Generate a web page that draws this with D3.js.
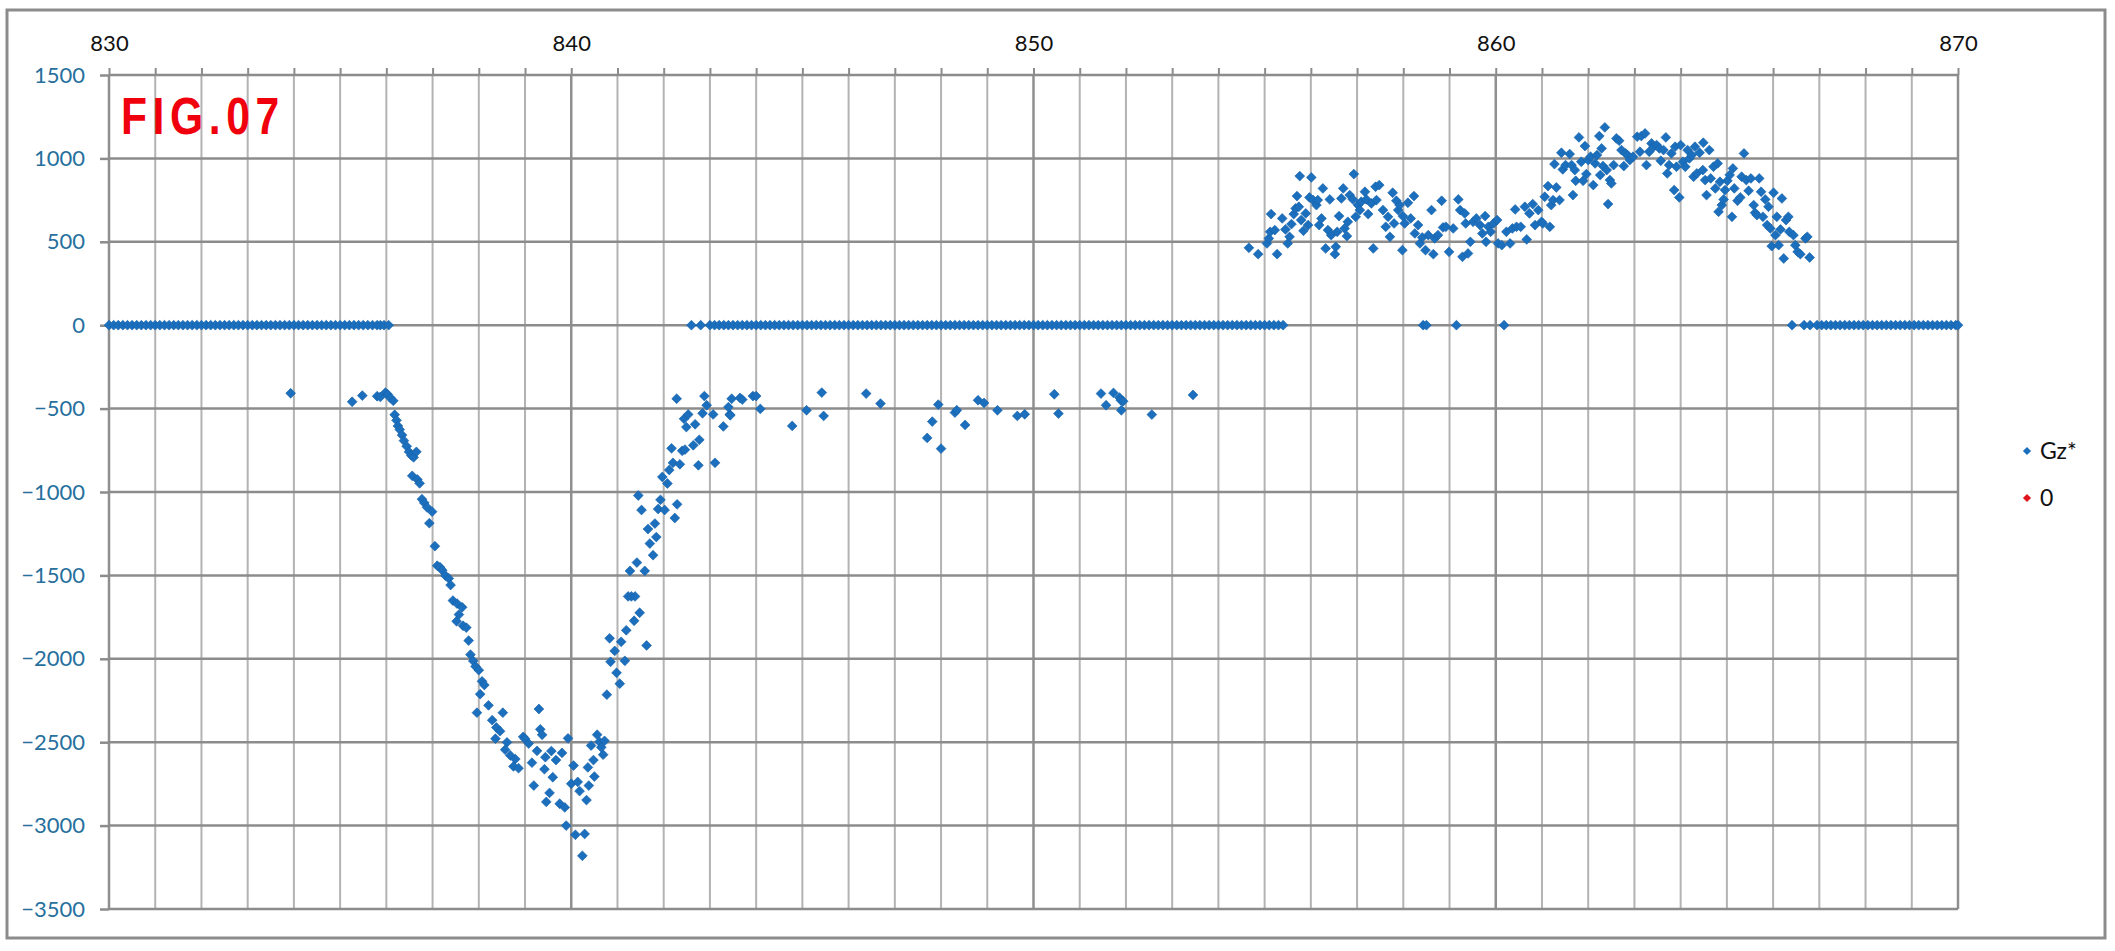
<!DOCTYPE html>
<html>
<head>
<meta charset="utf-8">
<script src="https://cdn.jsdelivr.net/npm/d3@7"></script>
<style>
  body { margin: 0; background: #fff; }
  .axis text { font-family: Lato, "Open Sans", sans-serif; font-size: 22px; }
  .axis path { display: none; }
</style>
</head>
<body>
<svg id="chart" width="2115" height="951"></svg>
<script>
//TICK LABELS
var xLabels = [830, 840, 850, 860, 870];
var yLabels = [1500, 1000, 500, 0, -500, -1000, -1500, -2000, -2500, -3000, -3500];

//LEGEND
var seriesNames = ["Gz*", "0"];
var seriesColors = ["#1b6fbd", "#e0141c"];

//Gz* READINGS THAT SIT ON ZERO (x positions)
var zeroLeft = [830,830.1,830.2,830.3,830.4,830.5,830.6,830.7,830.8,830.9,
  831,831.1,831.2,831.3,831.4,831.5,831.6,831.7,831.8,831.9,
  832,832.1,832.2,832.3,832.4,832.5,832.6,832.7,832.8,832.9,
  833,833.1,833.2,833.3,833.4,833.5,833.6,833.7,833.8,833.9,
  834,834.1,834.2,834.3,834.4,834.5,834.6,834.7,834.8,834.9,
  835,835.1,835.2,835.3,835.4,835.5,835.6,835.7,835.8,835.87,835.95,836.05];
var zeroMid = [842.6,842.8,843,843.1,843.2,843.3,843.4,843.5,843.6,843.7,843.8,843.9,
  844,844.1,844.2,844.3,844.4,844.5,844.6,844.7,844.8,844.9,
  845,845.1,845.2,845.3,845.4,845.5,845.6,845.7,845.8,845.9,
  846,846.1,846.2,846.3,846.4,846.5,846.6,846.7,846.8,846.9,
  847,847.1,847.2,847.3,847.4,847.5,847.6,847.7,847.8,847.9,
  848,848.1,848.2,848.3,848.4,848.5,848.6,848.7,848.8,848.9,
  849,849.1,849.2,849.3,849.4,849.5,849.6,849.7,849.8,849.9,
  850,850.1,850.2,850.3,850.4,850.5,850.6,850.7,850.8,850.9,
  851,851.1,851.2,851.3,851.4,851.5,851.6,851.7,851.8,851.9,
  852,852.1,852.2,852.3,852.4,852.5,852.6,852.7,852.8,852.9,
  853,853.1,853.2,853.3,853.4,853.5,853.6,853.7,853.8,853.9,
  854,854.1,854.2,854.3,854.4,854.5,854.6,854.7,854.8,854.9,
  855,855.1,855.2,855.3,855.4];
var zeroLone = [858.43, 858.5, 859.15, 860.18];
var zeroRight = [866.41,866.67,866.8,866.95,
  867.05,867.15,867.25,867.35,867.45,867.55,867.65,867.75,867.85,867.95,
  868.05,868.15,868.25,868.35,868.45,868.55,868.65,868.75,868.85,868.95,
  869.05,869.15,869.25,869.35,869.45,869.55,869.65,869.75,869.85,869.95,870];

//Gz* READINGS, DIP (x, value)
var dipPoints = [[833.93,-408],[835.26,-459],[835.48,-422],[835.8,-426],[835.87,-430],[835.98,-404],[836.03,-415],
  [836.09,-437],[836.15,-453],[836.18,-537],[836.22,-570],[836.25,-604],[836.29,-626],[836.34,-659],[836.38,-692],
  [836.44,-726],[836.49,-759],[836.54,-781],[836.59,-792],[836.65,-759],[836.56,-903],[836.67,-925],[836.72,-948],
  [836.77,-1043],[836.82,-1065],[836.88,-1092],[836.99,-1118],[836.93,-1187],[837.05,-1325],[837.1,-1442],
  [837.16,-1451],[837.21,-1469],[837.28,-1502],[837.35,-1518],[837.39,-1558],[837.44,-1651],[837.53,-1669],
  [837.64,-1691],[837.57,-1735],[837.52,-1775],[837.66,-1802],[837.73,-1813],[837.78,-1891],[837.82,-1975],
  [837.88,-2013],[837.93,-2046],[838.0,-2068],[838.07,-2135],[838.12,-2157],[838.03,-2212],[837.96,-2323],
  [838.21,-2279],[838.29,-2368],[838.38,-2412],[838.46,-2434],[838.36,-2479],[838.52,-2323],[838.61,-2501],
  [838.57,-2545],[838.68,-2579],[838.79,-2601],[838.75,-2645],[838.86,-2656],[838.96,-2468],[839.0,-2479],
  [839.08,-2508],[839.3,-2301],[839.33,-2423],[839.37,-2456],[839.26,-2552],[839.44,-2590],[839.15,-2623],
  [839.19,-2760],[839.57,-2553],[839.8,-2564],[839.67,-2607],[839.42,-2662],[839.6,-2710],[839.53,-2804],
  [839.46,-2858],[839.75,-2869],[839.86,-2891],[839.89,-3000],[839.93,-2477],[840.09,-3055],[840.29,-3050],
  [840.24,-3181],[840.05,-2640],[840.0,-2749],[840.14,-2738],[840.18,-2793],[840.33,-2847],[840.38,-2760],
  [840.36,-2651],[840.48,-2607],[840.5,-2706],[840.43,-2520],[840.56,-2455],[840.61,-2498],[840.69,-2575],
  [840.72,-2492],[840.65,-2531],[840.77,-2215],[841.05,-2149],[840.98,-2084],[840.85,-2018],[841.16,-2012],
  [840.94,-1953],[841.08,-1898],[840.83,-1877],[841.19,-1829],[841.63,-1920],[841.36,-1772],[841.48,-1724],
  [841.23,-1626],[841.3,-1626],[841.38,-1626],[841.27,-1473],[841.42,-1423],[841.59,-1473],[841.77,-1379],
  [841.7,-1309],[841.84,-1270],[841.66,-1222],[841.81,-1189],[841.52,-1108],[841.45,-1021],[841.93,-1047],
  [841.88,-1102],[842.02,-1108],[842.24,-1156],[842.29,-1074],[842.08,-949],[841.97,-910],[842.12,-868],
  [842.2,-825],[842.35,-834],[842.17,-738],[842.4,-753],[842.46,-746],[842.64,-720],[842.77,-687],[842.75,-840],
  [843.11,-825],[842.49,-611],[842.68,-594],[842.44,-561],[842.53,-535],[842.84,-528],[843.07,-535],[843.29,-607],
  [843.43,-535],[843.4,-491],[842.93,-480],[842.88,-425],[842.28,-441],[843.47,-441],[843.65,-436],[843.93,-425],
  [844.0,-425],[844.09,-502],[843.44,-540],[843.7,-446]];

//Gz* READINGS, SCATTER AROUND -500 (x, value)
var flatPoints = [[844.78,-604],[845.09,-510],[845.42,-404],[845.46,-544],[846.38,-410],[846.69,-470],[847.7,-676],
  [847.81,-578],[847.94,-476],[848.0,-740],[848.3,-524],[848.34,-510],[848.52,-598],[848.8,-450],[848.93,-466],
  [849.22,-510],[849.65,-544],[849.81,-534],[850.45,-414],[850.54,-530],[851.46,-410],[851.57,-480],[851.73,-406],
  [851.86,-434],[851.89,-450],[851.94,-456],[851.9,-510],[852.56,-536],[853.45,-418]];

//Gz* READINGS, HUMP (x, value)
var humpPoints = [[854.66,464],[854.86,426],[855.05,490],[855.09,520],[855.12,560],[855.14,666],[855.27,426],
  [855.22,570],[855.38,640],[855.45,574],[855.5,490],[855.54,530],[855.58,606],[855.63,666],[855.67,700],[855.7,774],
  [855.74,710],[855.76,894],[855.79,630],[855.84,566],[855.89,670],[855.94,600],[855.97,766],[856.01,886],[856.05,750],
  [856.12,720],[856.15,750],[856.18,600],[856.23,640],[856.26,820],[856.32,460],[856.37,570],[856.41,754],[856.44,540],
  [856.52,426],[856.54,470],[856.57,560],[856.61,654],[856.66,760],[856.7,820],[856.73,580],[856.78,534],[856.8,620],
  [856.84,780],[856.91,754],[856.93,906],[856.97,650],[857.02,720],[857.06,690],[857.09,740],[857.17,800],[857.2,754],
  [857.24,666],[857.31,730],[857.35,460],[857.4,830],[857.48,840],[857.42,750],[857.56,690],[857.62,590],[857.67,650],
  [857.71,530],[857.77,794],[857.8,610],[857.85,746],[857.89,690],[857.92,720],[857.98,450],[857.99,654],[858.03,610],
  [858.1,734],[858.16,640],[858.23,774],[858.25,550],[858.32,600],[858.36,490],[858.41,526],[858.48,450],[858.54,540],
  [858.61,690],[858.65,426],[858.68,520],[858.75,540],[858.83,746],[858.86,586],[858.92,590],[858.99,440],[859.08,580],
  [859.19,754],[859.23,690],[859.28,410],[859.33,670],[859.35,610],[859.4,430],[859.45,500],[859.51,620],[859.58,640],
  [859.66,600],[859.71,550],[859.77,654],[859.79,500],[859.84,590],[859.89,560],[859.95,610],[860.03,630],[860.05,490],
  [860.13,480],[860.23,560],[860.31,490],[860.36,580],[860.42,694],[860.45,590],[860.54,590],[860.63,710],[860.67,514],
  [860.73,670],[860.8,726],[860.85,600],[860.92,690],[860.99,620],[861.02,610],[861.17,590],[861.06,770],[861.13,834],
  [861.2,720],[861.24,750],[861.31,826],[861.38,750],[861.27,966],[861.42,1034],[861.45,934],[861.51,960],[861.6,1026],
  [861.64,960],[861.67,780],[861.71,930],[861.73,866],[861.8,1126],[861.85,980],[861.89,866],[861.93,1074],[861.96,906],
  [862.0,990],[862.05,1010],[862.11,840],[862.15,970],[862.19,1020],[862.24,1134],[862.26,900],[862.29,1060],
  [862.32,954],[862.36,1186],[862.4,930],[862.43,726],[862.47,870],[862.5,850],[862.55,960],[862.61,1120],[862.67,1106],
  [862.72,1050],[862.77,954],[862.81,1030],[862.85,1020],[862.9,990],[862.97,1010],[863.06,1130],[863.12,1040],
  [863.15,1134],[863.23,1150],[863.26,960],[863.32,1040],[863.37,1090],[863.42,1070],[863.48,1080],[863.54,1060],
  [863.57,986],[863.63,1050],[863.68,1126],[863.71,910],[863.75,960],[863.8,1030],[863.86,810],[863.88,1070],
  [863.91,950],[863.97,766],[864,1080],[864.05,980],[864.1,950],[864.15,1050],[864.19,1000],[864.24,1020],[864.28,890],
  [864.31,1070],[864.35,910],[864.41,1034],[864.48,930],[864.49,1094],[864.53,870],[864.56,780],[864.62,1050],
  [864.65,880],[864.71,950],[864.75,820],[864.8,970],[864.82,680],[864.85,860],[864.89,720],[864.93,754],[864.96,810],
  [865.01,866],[865.06,900],[865.11,650],[865.13,940],[865.16,820],[865.23,746],[865.29,766],[865.32,890],[865.37,1030],
  [865.42,870],[865.47,806],[865.52,880],[865.58,720],[865.61,674],[865.65,660],[865.7,880],[865.74,800],[865.78,650],
  [865.83,754],[865.87,600],[865.9,710],[865.94,580],[865.97,474],[866.01,794],[866.05,540],[866.08,650],[866.12,480],
  [866.16,574],[866.19,760],[866.23,400],[866.28,630],[866.33,650],[866.35,560],[866.44,540],[866.48,480],[866.53,440],
  [866.59,426],[866.7,520],[866.74,530],[866.79,406]];

function drawChart() {

  //basic svg attributes
  var svg = d3.select("#chart"),
      margin = {top: 75, left: 109},
      width = 1849,
      height = 834,
      g = svg.append("g").attr("transform", "translate(" + margin.left + "," + margin.top + ")");

  //outer frame
  svg.append("rect")
      .attr("x", 7).attr("y", 10)
      .attr("width", 2098).attr("height", 928)
      .attr("fill", "none")
      .attr("stroke", "#8c8c8c")
      .attr("stroke-width", 3);

  //scales
  var x = d3.scaleLinear().domain([830, 870]).range([0, width]),
      y = d3.scaleLinear().domain([-3500, 1500]).range([height, 0]);

  //vertical grid, one line per unit, darker every ten
  g.selectAll(".vgrid")
      .data(x.ticks(40))
      .enter().append("line")
      .attr("class", "vgrid")
      .attr("x1", function(d) { return x(d); })
      .attr("x2", function(d) { return x(d); })
      .attr("y1", 0).attr("y2", height)
      .attr("stroke", function(d) { return d % 10 === 0 ? "#8f8f8f" : "#b3b3b3"; })
      .attr("stroke-width", function(d) { return d % 10 === 0 ? 2.5 : 2; });

  //horizontal grid
  g.selectAll(".hgrid")
      .data(yLabels)
      .enter().append("line")
      .attr("class", "hgrid")
      .attr("x1", 0).attr("x2", width)
      .attr("y1", function(d) { return y(d); })
      .attr("y2", function(d) { return y(d); })
      .attr("stroke", "#8c8c8c")
      .attr("stroke-width", 2.5);

  //minor tick marks on top
  g.append("g")
      .attr("class", "axis")
      .call(d3.axisTop(x).ticks(40).tickSize(7).tickFormat(""))
      .selectAll("line").attr("stroke", "#8c8c8c").attr("stroke-width", 2);

  //x labels on top
  g.append("g")
      .attr("class", "axis")
      .call(d3.axisTop(x).tickValues(xLabels).tickSize(0).tickPadding(24).tickFormat(d3.format("d")))
      .selectAll("text").attr("fill", "#111");

  //y axis
  var yAxis = g.append("g")
      .attr("class", "axis")
      .call(d3.axisLeft(y).tickValues(yLabels).tickSize(9).tickPadding(15).tickFormat(d3.format("d")));
  yAxis.selectAll("line").attr("stroke", "#8c8c8c").attr("stroke-width", 2.5);
  yAxis.selectAll("text").attr("fill", "#27709e");

  //diamond marker
  var diamond = d3.symbol().type(d3.symbolSquare).size(48);

  //collects all Gz* readings
  var zeros = zeroLeft.concat(zeroMid, zeroLone, zeroRight).map(function(v) { return [v, 0]; });
  var gz = zeros.concat(dipPoints, flatPoints, humpPoints);

  g.selectAll(".gz")
      .data(gz)
      .enter().append("path")
      .attr("class", "gz")
      .attr("d", diamond)
      .attr("transform", function(d) { return "translate(" + x(d[0]) + "," + y(d[1]) + ") rotate(45)"; })
      .attr("fill", seriesColors[0])
      .attr("stroke", "#1660a8")
      .attr("stroke-width", 0.6);

  //figure label, narrowed glyphs with wide spacing
  svg.append("g")
      .attr("transform", "translate(121,134) scale(0.82,1)")
      .append("text")
      .attr("x", 0).attr("y", 0)
      .attr("textLength", 193)
      .attr("lengthAdjust", "spacing")
      .style("font-family", "'Liberation Sans', Arial, sans-serif")
      .style("font-weight", "bold")
      .style("font-size", "52px")
      .attr("fill", "#f0000c")
      .text("FIG.07");

  //legend
  var legend = svg.selectAll(".legend")
      .data(seriesNames)
      .enter().append("g")
      .attr("class", "legend")
      .attr("transform", function(d, i) { return "translate(2027," + (451 + i * 47) + ")"; });

  legend.append("path")
      .attr("d", d3.symbol().type(d3.symbolSquare).size(34))
      .attr("transform", "rotate(45)")
      .attr("fill", function(d, i) { return seriesColors[i]; });

  legend.append("text")
      .attr("x", 13).attr("y", 8)
      .style("font-family", "Lato, 'Open Sans', sans-serif")
      .style("font-size", "23px")
      .attr("fill", "#111")
      .text(function(d) { return d; });
}

drawChart();
</script>
</body>
</html>
